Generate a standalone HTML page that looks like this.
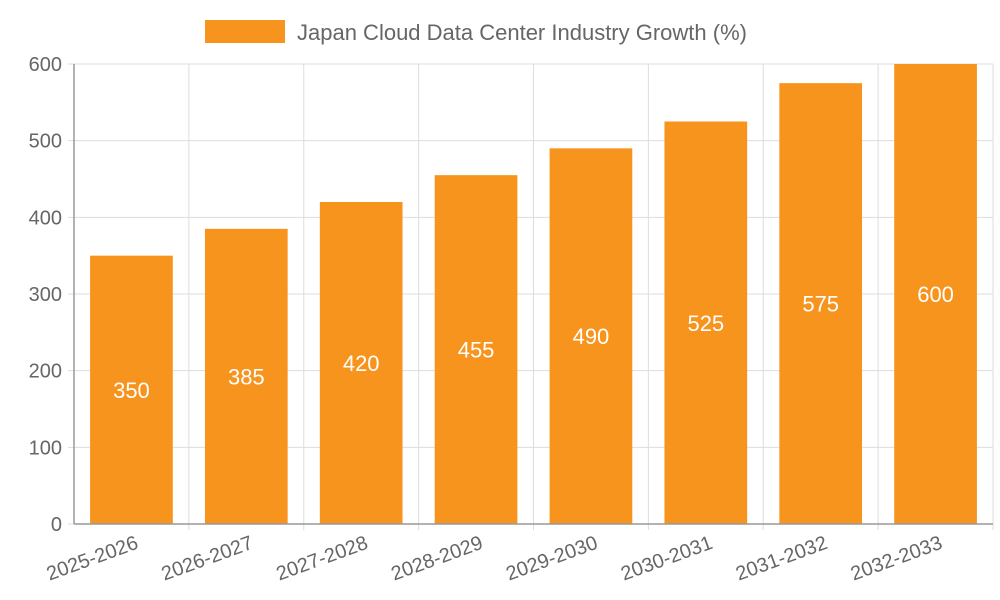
<!DOCTYPE html>
<html><head><meta charset="utf-8"><style>
html,body{margin:0;padding:0;background:#fff;}
svg{display:block;font-family:"Liberation Sans",sans-serif;}
</style></head><body>
<svg id="chart" width="1000" height="600">
<g id="grid"></g>
<g id="bars"></g>
<g id="axes"></g>
<g>
<rect x="205" y="20" width="80" height="23" fill="#f7941d"/>
<text x="297" y="40" font-size="22" fill="#666">Japan Cloud Data Center Industry Growth (%)</text>
</g>
</svg>
<script>
const categories=["2025-2026","2026-2027","2027-2028","2028-2029","2029-2030","2030-2031","2031-2032","2032-2033"];
const values=[350,385,420,455,490,525,575,600];
const yTicks=[0,100,200,300,400,500,600];
const NS="http://www.w3.org/2000/svg";
const L=74,R=993,T=64,B=524,yMax=600;
const bw=(R-L)/categories.length;
const y=v=>B-(v/yMax)*(B-T);
const x=i=>L+bw*i;
function mk(tag,attrs,parent){const e=document.createElementNS(NS,tag);for(const k in attrs)e.setAttribute(k,attrs[k]);parent.appendChild(e);return e;}
const grid=document.getElementById('grid'),bars=document.getElementById('bars'),axes=document.getElementById('axes');
yTicks.forEach(t=>{
 const g=mk('line',{x1:L-6,x2:R,y1:y(t),y2:y(t),stroke:'#ddd','stroke-width':1},grid);
 
 
 const tx=mk('text',{x:L-12,y:y(t)+7,'text-anchor':'end','font-size':20,fill:'#666'},axes);
 tx.textContent=t;
 
 
});
for(let i=1;i<=categories.length;i++){
 const g=mk('line',{x1:x(i),x2:x(i),y1:T,y2:B+6,stroke:'#ddd','stroke-width':1},grid);
 
 
}
categories.forEach((c,i)=>{
 const cx=x(i)+bw/2,w=bw*0.72;
 const r=mk('rect',{x:cx-w/2,y:y(values[i]),width:w,height:B-y(values[i]),fill:'#f7941d'},bars);
 
 
 const t=mk('text',{x:cx,y:(y(values[i])+B)/2+8,'text-anchor':'middle','font-size':22,fill:'#fff'},bars);
 t.textContent=values[i];
 
 
 const xl=mk('text',{x:0,y:0,'text-anchor':'end','font-size':20,fill:'#666',transform:`translate(${cx+8},${B+24}) rotate(-20)`},axes);
 xl.textContent=c;
 
 
});
const ya=mk('line',{x1:L,x2:L,y1:T,y2:B,stroke:'#999','stroke-width':1.5},axes);


const xa=mk('line',{x1:L,x2:R,y1:B,y2:B,stroke:'#999','stroke-width':1.5},axes);


</script>
</body></html>
